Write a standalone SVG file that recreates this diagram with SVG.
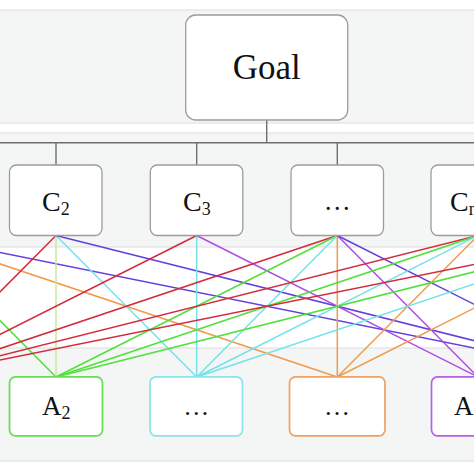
<svg xmlns="http://www.w3.org/2000/svg" width="474" height="474" viewBox="0 0 474 474">
<style>
.band{fill:#f4f5f5}
.bline{stroke:#dddddd;stroke-width:1.2;fill:none}
.tree{stroke:#6e6e6e;stroke-width:1.4;fill:none}
.cbox{fill:#ffffff;stroke:#9c9c9c;stroke-width:1.3}
.abox{fill:#ffffff;stroke-width:1.7}
.lbl{font-family:"Liberation Serif","DejaVu Serif",serif;fill:#111111}
.c line{stroke-width:1.5;fill:none}
.red{stroke:#d42a3c}
.grn{stroke:#52e03c}
.pgr{stroke:#c6e8a0}
.cyn{stroke:#74e2ea}
.org{stroke:#f09a4c}
.mag{stroke:#b04ae6}
.vio{stroke:#6440dc}
</style>
<rect width="474" height="474" fill="#ffffff"/>
<g id="background">
<rect class="band" x="0" y="10" width="474" height="113"/>
<rect class="band" x="0" y="133" width="474" height="114"/>
<rect class="band" x="0" y="348" width="474" height="113"/>
<line class="bline" x1="0" y1="10" x2="474" y2="10"/>
<line class="bline" x1="0" y1="123" x2="474" y2="123"/>
<line class="bline" x1="0" y1="133" x2="474" y2="133"/>
<line class="bline" x1="0" y1="247" x2="474" y2="247"/>
<line class="bline" x1="0" y1="348" x2="474" y2="348"/>
<line class="bline" x1="0" y1="461" x2="474" y2="461"/>
</g>
<g id="connectors">
<g class="tree">
<line x1="266.7" y1="120" x2="266.7" y2="142.7"/>
<line x1="0" y1="142.7" x2="474" y2="142.7"/>
<line x1="56" y1="142.7" x2="56" y2="165"/>
<line x1="196.7" y1="142.7" x2="196.7" y2="165"/>
<line x1="337.3" y1="142.7" x2="337.3" y2="165"/>
</g>
<g class="c">
<line class="grn" x1="-84.7" y1="235.5" x2="56" y2="377"/>
<line class="org" x1="-84.7" y1="235.5" x2="337.3" y2="377"/>
<line class="vio" x1="-84.7" y1="235.5" x2="618.7" y2="377"/>
<line class="red" x1="56" y1="235.5" x2="-84.7" y2="377"/>
<line class="pgr" x1="56" y1="235.5" x2="56" y2="377"/>
<line class="cyn" x1="56" y1="235.5" x2="196.7" y2="377"/>
<line class="vio" x1="56" y1="235.5" x2="618.7" y2="377"/>
<line class="red" x1="196.7" y1="235.5" x2="-84.7" y2="377"/>
<line class="cyn" x1="196.7" y1="235.5" x2="196.7" y2="377"/>
<line class="mag" x1="196.7" y1="235.5" x2="478" y2="377"/>
<line class="red" x1="337.3" y1="235.5" x2="-84.7" y2="377"/>
<line class="grn" x1="337.3" y1="235.5" x2="56" y2="377"/>
<line class="cyn" x1="337.3" y1="235.5" x2="196.7" y2="377"/>
<line class="org" x1="337.3" y1="235.5" x2="337.3" y2="377"/>
<line class="mag" x1="337.3" y1="235.5" x2="478" y2="377"/>
<line class="vio" x1="337.3" y1="235.5" x2="618.7" y2="377"/>
<line class="red" x1="478" y1="235.5" x2="-84.7" y2="377"/>
<line class="grn" x1="478" y1="235.5" x2="56" y2="377"/>
<line class="cyn" x1="478" y1="235.5" x2="196.7" y2="377"/>
<line class="org" x1="478" y1="235.5" x2="337.3" y2="377"/>
<line class="red" x1="618.7" y1="235.5" x2="-84.7" y2="377"/>
<line class="grn" x1="618.7" y1="235.5" x2="56" y2="377"/>
<line class="cyn" x1="618.7" y1="235.5" x2="196.7" y2="377"/>
<line class="org" x1="618.7" y1="235.5" x2="337.3" y2="377"/>
</g>
</g>
<g id="goal">
<rect class="cbox" x="185.7" y="15" width="162" height="105" rx="10"/>
<text class="lbl" x="266.7" y="79" font-size="35" text-anchor="middle">Goal</text>
</g>
<g id="c2">
<rect class="cbox" x="9.5" y="165" width="92.5" height="70.5" rx="7"/>
<text class="lbl" x="42" y="211" font-size="28">C<tspan font-size="18" dy="3.5">2</tspan></text>
</g>
<g id="c3">
<rect class="cbox" x="150.3" y="165" width="92.5" height="70.5" rx="7"/>
<text class="lbl" x="183" y="211" font-size="28">C<tspan font-size="18" dy="3.5">3</tspan></text>
</g>
<g id="c4">
<rect class="cbox" x="291" y="165" width="92.5" height="70.5" rx="7"/>
<text class="lbl" x="337.3" y="210" font-size="27" text-anchor="middle">…</text>
</g>
<g id="cn">
<rect class="cbox" x="431" y="165" width="92.5" height="70.5" rx="7"/>
<text class="lbl" x="450" y="211" font-size="28">C<tspan font-size="18" dy="3.5">n</tspan></text>
</g>
<g id="a2">
<rect class="abox" x="9.5" y="376.8" width="93" height="59" rx="6" stroke="#66dd55"/>
<text class="lbl" x="42" y="415" font-size="27">A<tspan font-size="18" dy="4">2</tspan></text>
</g>
<g id="a3">
<rect class="abox" x="150" y="376.8" width="92.5" height="59" rx="6" stroke="#88e4ea"/>
<text class="lbl" x="196.2" y="415" font-size="26" text-anchor="middle">…</text>
</g>
<g id="a4">
<rect class="abox" x="289.5" y="376.8" width="95.5" height="59" rx="6" stroke="#f0a060"/>
<text class="lbl" x="337" y="415" font-size="26" text-anchor="middle">…</text>
</g>
<g id="an">
<rect class="abox" x="431.5" y="376.8" width="93" height="59" rx="6" stroke="#b460e8"/>
<text class="lbl" x="454" y="415" font-size="27">A<tspan font-size="18" dy="4">n</tspan></text>
</g>
</svg>
